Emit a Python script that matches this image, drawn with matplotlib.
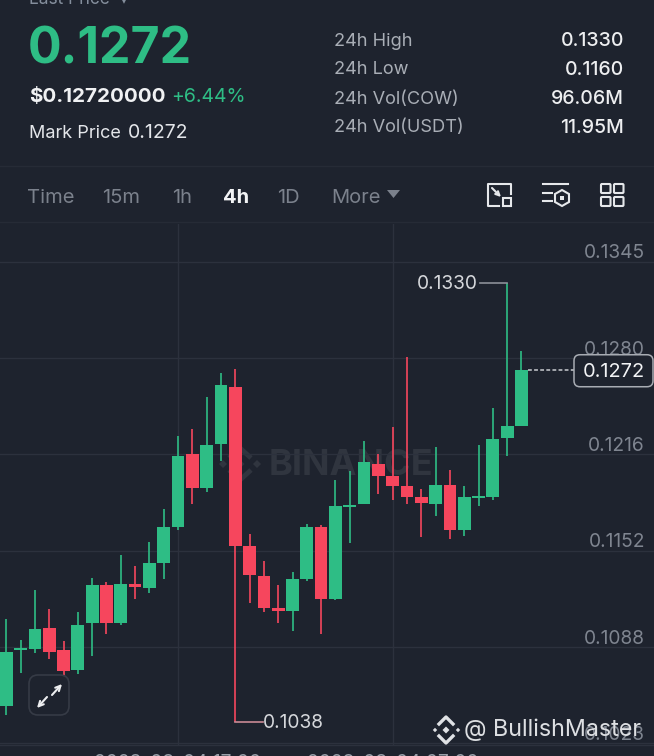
import matplotlib
matplotlib.use("Agg")
import matplotlib.pyplot as plt
from matplotlib.patches import FancyBboxPatch, Polygon, Rectangle

W, H = 654, 756
BG = "#1E232E"
GREEN = "#2EBD85"
RED = "#F6465D"
FONT = ["Inter", "Roboto", "DejaVu Sans"]
plt.rcParams["font.family"] = FONT

# Candle data (price)
opens = [.1049,.1086,.1087,.1101,.1086,.1073,.1104,.1129,.1104,.1130,.1127,.1144,.1168,.1216,.1194,.1223,.1261,.1155,.1135,.1114,.1112,.1133,.1168,.1120,.1181,.1183,.1210,.1202,.1195,.1188,.1183,.1196,.1166,.1187,.1188,.1227,.1235]
highs = [.1107,.1093,.1126,.1113,.1092,.1111,.1134,.1131,.1149,.1142,.1158,.1180,.1228,.1233,.1254,.1270,.1273,.1163,.1145,.1129,.1138,.1170,.1169,.1199,.1205,.1225,.1216,.1234,.1281,.1193,.1221,.1206,.1195,.1222,.1247,.1330,.1285]
lows = [.1043,.1071,.1084,.1080,.1069,.1070,.1082,.1097,.1103,.1120,.1124,.1133,.1166,.1183,.1191,.1212,.1038,.1117,.1111,.1104,.1099,.1132,.1097,.1119,.1157,.1183,.1190,.1186,.1183,.1161,.1175,.1160,.1162,.1182,.1186,.1215,.1235]
closes = [.1085,.1087,.1100,.1085,.1072,.1103,.1129,.1104,.1130,.1128,.1144,.1168,.1215,.1194,.1222,.1262,.1155,.1136,.1114,.1112,.1133,.1168,.1120,.1182,.1182,.1211,.1202,.1195,.1188,.1184,.1196,.1166,.1188,.1188,.1226,.1235,.1272]
price_ticks = [.1344,.1280,.1216,.1152,.1088,.1024]
price_labels = ["0.1345","0.1280","0.1216","0.1152","0.1088","0.1023"]
time_idx = [12, 27]
time_labels = ["2023-03-04 17:00", "2023-03-04 07:00"]
last_price = .1272
session_high = .1330
session_low = .1038
high_idx = 35
low_idx = 16

fig = plt.figure(figsize=(W/100, H/100), dpi=100, facecolor=BG)

def box(t, b):
    return [0, 1-b/H, 1, (b-t)/H]

# layer under the candles (watermark)
under = fig.add_axes([0, 0, 1, 1], facecolor="none", zorder=0)
under.set_xlim(0, W); under.set_ylim(H, 0); under.axis("off")

ax = fig.add_axes(box(224, 745), facecolor="none", zorder=1)
PX_X = 14.31
ax.set_xlim(-6.3/PX_X, (W-6.3)/PX_X)
ax.set_ylim(.1216-290.5*6.646e-5, .1216+230.5*6.646e-5)
for s in ax.spines.values():
    s.set_visible(False)
ax.set_xticks(time_idx)
ax.set_yticks(price_ticks)
ax.tick_params(length=0, labelleft=False, labelbottom=False)
ax.grid(True, color="#2C313D", lw=1)
ax.set_axisbelow(True)

for i in range(len(opens)):
    up = closes[i] >= opens[i]
    c = GREEN if up else RED
    ax.vlines(i, lows[i], highs[i], color=c, lw=1.2, zorder=3)
    lo, hi = min(opens[i], closes[i]), max(opens[i], closes[i])
    ax.bar(i, max(hi-lo, .00012), bottom=lo, width=.89,
           color=c, lw=0, zorder=4)

# overlay in pixel units for interface furniture
ov = fig.add_axes([0, 0, 1, 1], facecolor="none", zorder=2)
ov.set_xlim(0, W); ov.set_ylim(H, 0); ov.axis("off")

def T(x, y, s, size, color="#EAECEF", ha="left", weight="normal", target=None, **kw):
    return (target or ov).text(x, y+2.5, s, fontsize=size, color=color, ha=ha, va="center", weight=weight, **kw)

GREY = "#9AA0AA"
TICK = "#7F8590"
# price axis labels
for p, l in zip(price_ticks, price_labels):
    y = H - ax.transData.transform((0, p))[1]
    T(645, y-11, l, 13.8, color=TICK, ha="right", zorder=1)

# time labels
for i, l in zip(time_idx, time_labels):
    x = ax.transData.transform((i, 0))[0]
    T(x, 761, l, 13.8, color=GREY, ha="center")

# header
T(29, -3, "Last Price  \u25be", 12.5, color="#848E9C")
T(28, 48, "0.1272", 36, color=GREEN, weight="bold")
T(29, 95, "$0.12720000", 14.8, color="#F0F1F3", weight="bold")
T(171, 95, "+6.44%", 14, color=GREEN)
T(29, 131, "Mark Price", 13, color="#E4E6EA")
T(128, 131, "0.1272", 14, color="#E4E6EA")
rows = [("24h High","0.1330"),("24h Low","0.1160"),("24h Vol(COW)","96.06M"),("24h Vol(USDT)","11.95M")]
for k, (a, b) in enumerate(rows):
    y = 38.5 + k*29
    T(334, y, a, 13.1, color="#A9AEB6")
    T(624, y, b, 14, color="#EDEEF0", ha="right", weight="medium")

# tab bar
ov.plot([0, W], [166, 166], color="#262B36", lw=1)
ov.plot([0, W], [222, 222], color="#262B36", lw=1)
for x, s, c in [(27,"Time","#7B818C"),(102,"15m","#7B818C"),(172,"1h","#7B818C"),(223,"4h","#F2F3F5"),(277,"1D","#7B818C"),(331,"More","#7B818C")]:
    T(x, 195.5, s, 14.5, color=c, weight="bold" if s == "4h" else "normal")
ov.add_patch(Polygon([[387,190],[400,190],[393.5,198]], color="#7B818C", lw=0))

ICON = "#E6E8EB"
ic = dict(fill=False, ec=ICON, lw=1.5)
# icon 1
ov.plot([499,488,488,511,511],[206,206,184,184,194], color=ICON, lw=1.5)
ov.add_patch(Rectangle((503,198),8,8,**ic))
ov.annotate("", xy=(501,197), xytext=(492,188), arrowprops=dict(arrowstyle="->", color=ICON, lw=1.5, mutation_scale=7, shrinkA=0, shrinkB=0))
# icon 2
ov.plot([543,568],[184,184], color=ICON, lw=1.5)
ov.plot([543,552],[193,193], color=ICON, lw=1.5)
ov.plot([543,552],[201,201], color=ICON, lw=1.5)
ov.add_patch(Polygon([[562,190],[569,194],[569,202],[562,206],[555,202],[555,194]], **ic))
ov.add_patch(Rectangle((560,196),3.5,4,fc=ICON,ec="none"))
# icon 3
for x in (601, 614):
    for y in (184, 197):
        ov.add_patch(FancyBboxPatch((x,y),9.5,9,boxstyle="round,pad=0,rounding_size=1",**ic))

# watermark (beneath the candles)
WM = "#30353F"
def diamond(tgt, cx, cy, r, color, **kw):
    tgt.add_patch(Polygon([[cx-r,cy],[cx,cy-r],[cx+r,cy],[cx,cy+r]], color=color, lw=0, **kw))
for dx, r in [(-17,4),(17,4),(0,4.5)]:
    diamond(under, 240+dx, 464, r, WM)
under.plot([229,240,251],[458,448,458], color=WM, lw=3.5, solid_capstyle="butt")
under.plot([229,240,251],[470,480,470], color=WM, lw=3.5, solid_capstyle="butt")
T(269, 463, "BINANCE", 26, color=WM, weight="bold", target=under)

# session high/low callouts
LBL = "#D5D7DB"
xh = ax.transData.transform((high_idx, session_high))
xl = ax.transData.transform((low_idx, session_low))
ov.plot([480, xh[0]], [H-xh[1]]*2, color="#8C9098", lw=1.2)
T(417, H-xh[1]-1.5, "0.1330", 13.8, color=LBL)
ov.plot([xl[0], 263], [H-xl[1]]*2, color="#C98A95", lw=1.2)
T(263, H-xl[1]-1.5, "0.1038", 13.8, color=LBL)

# last-price tag
yl = H - ax.transData.transform((0, last_price))[1]
ov.plot([528, 574], [yl, yl], color="#C9CCD1", lw=1.1, ls=(0, (2.5, 1.5)))
ov.add_patch(FancyBboxPatch((574, yl-15.5), 79, 32, boxstyle="round,pad=0,rounding_size=6", fc=BG, ec="#A8ACB3", lw=1.1, zorder=5))
T(645, yl-1, "0.1272", 14.4, color="#F2F3F5", ha="right", zorder=6)

# expand button
ov.add_patch(FancyBboxPatch((29, 675), 40, 40, boxstyle="round,pad=0,rounding_size=9", fc=BG, ec="#363B46", lw=1.2, zorder=5))
for a, b in [((62,684),(52,695)), ((37,708),(47,697))]:
    ov.annotate("", xy=a, xytext=b, zorder=6, arrowprops=dict(arrowstyle="->", color="#EDEEF0", lw=1.5, mutation_scale=9, shrinkA=0, shrinkB=0))

# footer stamp
ov.plot([0, W], [745, 745], color="#2C313D", lw=1, zorder=0)
diamond(ov, 446, 730, 3.5, "#E0E2E5", zorder=7)
diamond(ov, 435, 730, 2.2, "#E0E2E5", zorder=7)
diamond(ov, 458, 730, 2.2, "#E0E2E5", zorder=7)
ov.plot([439,446,453],[724,717,724], color="#E0E2E5", lw=2.4, zorder=7)
ov.plot([439,446,453],[736,743,736], color="#E0E2E5", lw=2.4, zorder=7)
T(464, 727.5, "@ BullishMaster", 16.8, color="#DDDFE2", zorder=7)

fig.savefig("out.png", dpi=100, facecolor=BG)
